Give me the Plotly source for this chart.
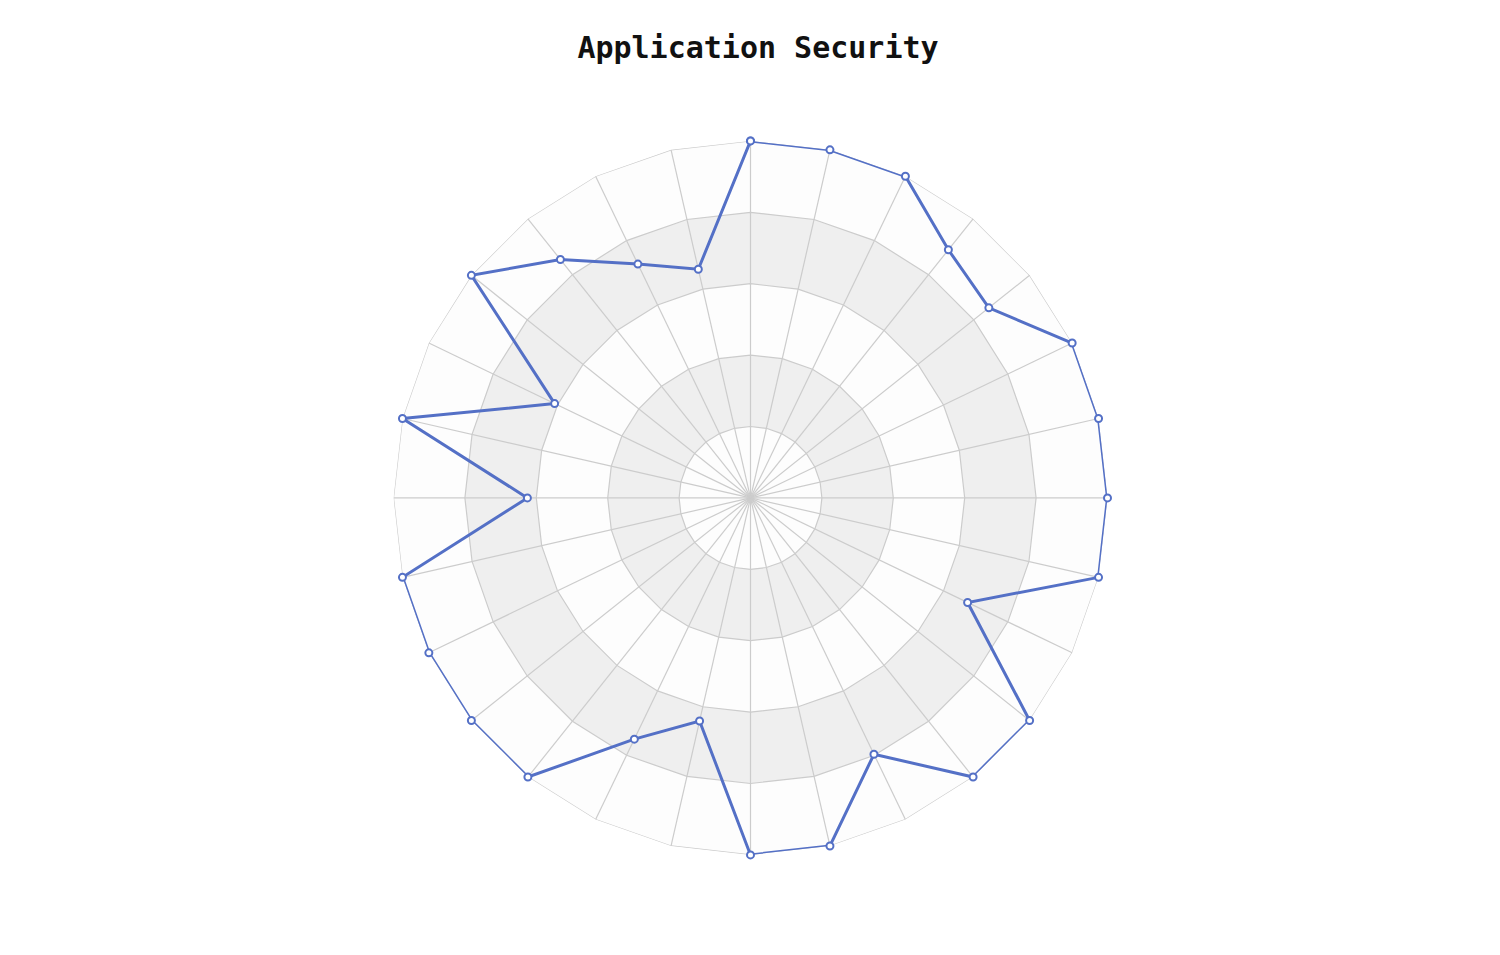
import plotly.graph_objects as go

categories = ["xxe", "8kb rce", "16kb rce", "crlf injection", "xss", "8kb sql injection",
              "8kb xss", "64kb rce", "16kb xss", "sql injection", "lfi", "32kb xss",
              "ldap injection", "128kb rce", "128kb sql injection", "sst injection",
              "ss injection", "64kb xss", "32kb sql injection", "32kb rce", "128kb xss",
              "mail injection", "64kb sql injection", "rce", "16kb sql injection", "shell",
              "path traversal", "nosql injection"]
values = [100.0, 100.0, 100.0, 88.9, 85.4, 100.0, 100.0, 100.0, 100.0, 67.5, 100.0, 100.0,
          79.7, 100.0, 100.0, 64.1, 75.0, 100.0, 100.0, 100.0, 100.0, 62.5, 100.0, 60.9,
          100.0, 85.4, 72.7, 65.7]
labels = [f"{c} ({v:.1f}%)" for c, v in zip(categories, values)]

n = len(categories)
closed = categories + categories[:1]

# split areas, painted from outside in
bands = [(100, "#fdfdfd"), (80, "#efefef"), (60, "#fdfdfd"), (40, "#efefef"), (20, "#fdfdfd")]

fig = go.Figure()
for r, col in bands:
    fig.add_trace(go.Scatterpolar(r=[r] * (n + 1), theta=closed, fill="toself", fillcolor=col,
                                  line=dict(width=0), mode="lines", hoverinfo="skip",
                                  showlegend=False))

# polygon rings
for r, _ in bands:
    fig.add_trace(go.Scatterpolar(r=[r] * (n + 1), theta=closed, mode="lines",
                                  line=dict(color="#cccccc", width=1.2), hoverinfo="skip",
                                  showlegend=False))
# spokes
for c in categories:
    fig.add_trace(go.Scatterpolar(r=[0, 100], theta=[c, c], mode="lines",
                                  line=dict(color="#cccccc", width=1.2), hoverinfo="skip",
                                  showlegend=False))

fig.add_trace(go.Scatterpolar(
    r=values + values[:1], theta=closed, mode="lines+markers",
    line=dict(color="#5470c6", width=3),
    marker=dict(size=7, color="white", line=dict(color="#5470c6", width=2)),
    showlegend=False))

# category labels placed outside the outer ring
positions = []
label_r = []
for i in range(n):
    ang = 360 * i / n
    if i == 0:
        positions.append("top center")
    elif i == n // 2:
        positions.append("bottom center")
    elif ang < 180:
        positions.append("middle right" if 20 < ang < 160 else ("top right" if ang <= 20 else "bottom right"))
    else:
        positions.append("middle left" if 200 < ang < 340 else ("bottom left" if ang <= 200 else "top left"))
    label_r.append(111 if i == n // 2 else 104)

fig.add_trace(go.Scatterpolar(r=label_r, theta=categories, mode="text", text=labels,
                              textposition=positions, cliponaxis=False,
                              textfont=dict(size=18, family="DejaVu Sans Mono", color="#222"),
                              hoverinfo="skip", showlegend=False))

fig.update_layout(
    width=1500, height=955, paper_bgcolor="white", plot_bgcolor="white",
    margin=dict(l=0, r=0, t=0, b=0),
    font=dict(family="DejaVu Sans Mono", color="#222"),
    title=dict(text="<b>Application Security</b>", x=0.5, y=0.97, xanchor="center",
               font=dict(size=30, family="DejaVu Sans Mono", color="#111")),
    polar=dict(
        domain=dict(x=[0.257, 0.733], y=[0.113, 0.861]),
        bgcolor="white", gridshape="linear",
        radialaxis=dict(range=[0, 100], showticklabels=False, ticks="", showline=False,
                        showgrid=False),
        angularaxis=dict(direction="clockwise", rotation=90, tickvals=categories,
                         showticklabels=False, ticks="", showline=False, showgrid=False),
    ),
)

fig.write_html("out.html")
